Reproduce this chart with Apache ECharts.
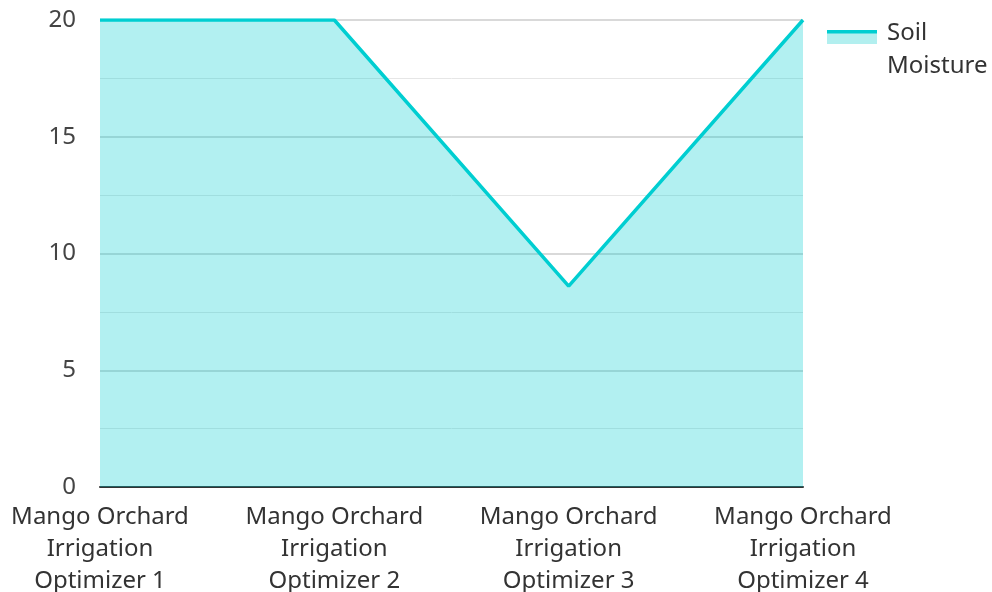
<!DOCTYPE html>
<html>
<head>
<meta charset="utf-8">
<script src="https://cdn.jsdelivr.net/npm/echarts@6/dist/echarts.min.js"></script>
<style>
  html, body { margin: 0; padding: 0; background: #fff; }
  #container { width: 992px; height: 592px; }
</style>
</head>
<body>
<div id="container"></div>
<script>
var categories = [
    'Mango Orchard\nIrrigation\nOptimizer 1',
    'Mango Orchard\nIrrigation\nOptimizer 2',
    'Mango Orchard\nIrrigation\nOptimizer 3',
    'Mango Orchard\nIrrigation\nOptimizer 4'
];
var soilMoisture = [20, 20, 8.6, 20];

var lineColor = '#00CED1';

// legend icon: line on top, area fill below, pinned to the first text line
var iconSvg = '<svg xmlns="http://www.w3.org/2000/svg" width="55" height="66">' +
    '<rect x="0" y="16" width="50" height="11" fill="#b2efef"/>' +
    '<rect x="0" y="13" width="50" height="3.5" fill="#00CED1"/></svg>';
var legendIcon = 'image://data:image/svg+xml;charset=utf-8,' + encodeURIComponent(iconSvg);

var dom = document.getElementById('container');
var myChart = echarts.init(dom);

var option = {
    textStyle: { fontFamily: 'Noto Sans' },
    legend: {
        orient: 'vertical',
        left: 827,
        top: 17,
        padding: 0,
        itemWidth: 55,
        itemHeight: 66,
        itemGap: 10,
        data: [{ name: 'Soil Moisture', icon: legendIcon }],
        formatter: function () { return 'Soil\nMoisture'; },
        textStyle: { fontSize: 24, lineHeight: 33, color: '#333', fontFamily: 'Noto Sans' }
    },
    grid: { left: 100, right: 189, top: 20, bottom: 105, outerBoundsMode: 'none' },
    xAxis: {
        type: 'category',
        boundaryGap: false,
        data: categories,
        axisTick: { show: false },
        axisLine: { lineStyle: { color: '#333', width: 2 } },
        axisLabel: { fontSize: 24, lineHeight: 32, color: '#333', margin: 14, fontFamily: 'Noto Sans' }
    },
    yAxis: {
        type: 'value',
        min: 0,
        max: 20,
        interval: 5,
        axisLabel: { fontSize: 24, color: '#444', margin: 24, fontFamily: 'Noto Sans' },
        splitLine: { lineStyle: { color: '#cccccc', width: 1.5 } },
        minorTick: { show: false, splitNumber: 2 },
        minorSplitLine: { show: true, lineStyle: { color: '#e6e6e6', width: 1 } }
    },
    series: [
        {
            name: 'Soil Moisture',
            type: 'line',
            data: soilMoisture,
            symbol: 'none',
            lineStyle: { color: lineColor, width: 3.5 },
            itemStyle: { color: lineColor },
            areaStyle: { color: lineColor, opacity: 0.3 }
        }
    ]
};

myChart.setOption(option, true);
</script>
</body>
</html>
